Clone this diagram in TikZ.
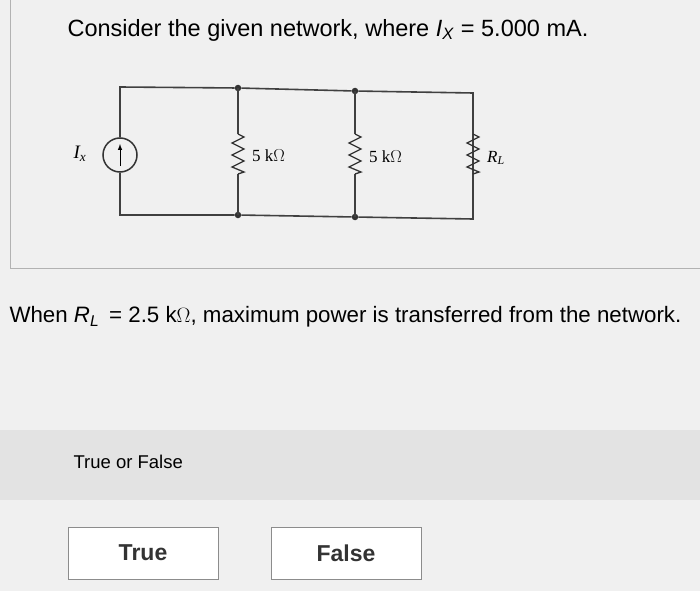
\documentclass[tikz,border=0pt]{standalone}
\usepackage{fontspec}
\setmainfont{Liberation Sans}
\newfontfamily\serifc{Liberation Serif}
\begin{document}
\begin{tikzpicture}[x=1pt,y=-1pt,
  wire/.style={line width=1.6pt,draw=black!75},
  dot/.style={circle,fill=black!80,inner sep=0pt,minimum size=6.5pt},
  res/.style={line width=1.3pt,draw=black!80},
  lbl/.style={font=\serifc\fontsize{17}{17}\selectfont,anchor=west,inner sep=1pt},
  btn/.style={draw=black!45,fill=white,line width=1pt,minimum width=150pt,minimum height=52pt,font=\bfseries\fontsize{23}{23}\selectfont,text=black!80}]
\fill[gray!12] (0,0) rectangle (700,591);
\useasboundingbox (0,0) rectangle (700,591);
\draw[black!30,line width=1pt] (10,0) -- (10,268) -- (700,268);
\fill[gray!22] (0,430) rectangle (700,500);
\node[anchor=west,font=\fontsize{23.5}{23.5}\selectfont] (title) at (64,30) {Consider the given network, where \textit{I}\textsubscript{\textit{X}} = 5.000 mA.};
% circuit
\coordinate (tl) at (120,87); \coordinate (bl) at (120,215);
\node[dot] (t1) at (238,88) {}; \node[dot] (b1) at (238,215) {};
\node[dot] (t2) at (355,91) {}; \node[dot] (b2) at (355,217) {};
\coordinate (tr) at (473,93); \coordinate (br) at (473,219);
\node[circle,draw=black!80,line width=1.5pt,minimum size=34pt,inner sep=0pt] (src) at (120,155) {};
\draw[wire] (src.south) -- (bl) -- (b1) -- (b2) -- (br) -- (tr) -- (t2) -- (t1) -- (tl) -- (src.north);
\draw[-latex,line width=1pt] (120,166) -- (120,144);
\foreach \x/\t/\b/\n in {238/88/215/a,355/91/217/b,473/93/219/c}{
  \draw[wire] (\x,\t) -- (\x,134) (\x,174) -- (\x,\b);
  \draw[res] (\x,134) -- (\x+6,137) -- (\x-6,143) -- (\x+6,149) -- (\x-6,155) -- (\x+6,161) -- (\x-6,167) -- (\x+6,172) -- (\x,174);
}
\node[lbl] (la) at (251,156) {5 k$\Omega$};
\node[lbl] (lb) at (368,157) {5 k$\Omega$};
\node[lbl] (lc) at (486,158) {\itshape R\textsubscript{\itshape L}};
\node[font=\serifc\itshape\fontsize{19}{19}\selectfont] (ix) at (80,154) {I\textsubscript{x}};
\node[anchor=west,font=\fontsize{22.3}{22.3}\selectfont] (q) at (6,317) {When \textit{R}\textsubscript{\textit{L}} \,= 2.5 k$\Omega$, maximum power is transferred from the network.};
\node[anchor=west,font=\fontsize{18.5}{18.5}\selectfont] (tf) at (70,462) {True or False};
\node[btn] (true) at (143,553) {True};
\node[btn] (false) at (346,553) {False};
\end{tikzpicture}
\end{document}
